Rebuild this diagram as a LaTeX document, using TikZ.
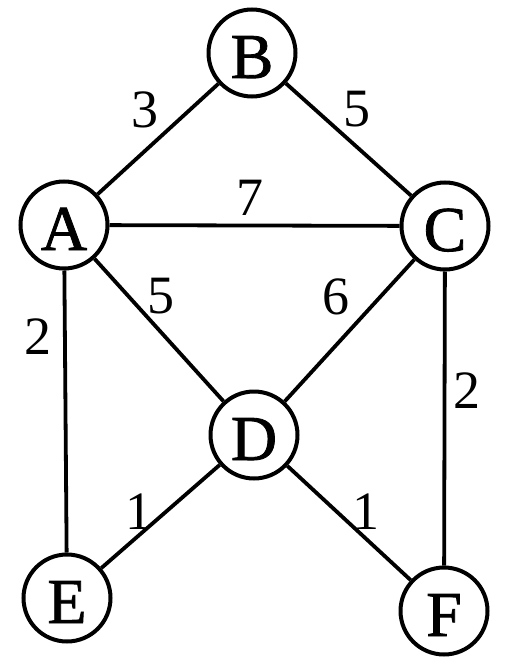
\documentclass[tikz,border=0pt]{standalone}
\usepackage{fontspec}
\setmainfont{Liberation Serif}
\newfontfamily\vtxfont[FakeBold=1.3]{Liberation Serif}
\begin{document}
\begin{tikzpicture}[x=1pt,y=-1pt,
  vtx/.style={circle,draw,line width=4pt,minimum size=87pt,inner sep=0pt,text height=50pt,text depth=0pt,font=\vtxfont\fontsize{64}{64}\selectfont},
  edge/.style={line width=3.8pt},
  wt/.style={font=\fontsize{54}{54}\selectfont,inner sep=0pt}]
\useasboundingbox (0,0) rectangle (505,668);
\node[vtx] (B) at (252,53) {B};
\node[vtx] (A) at (64,225) {A};
\node[vtx] (C) at (445,226) {C};
\node[vtx] (D) at (254,435) {D};
\node[vtx] (E) at (67,598) {E};
\node[vtx] (F) at (444,611) {F};
\draw[edge] (A) -- (B);
\draw[edge] (B) -- (C);
\draw[edge] (A) -- (C);
\draw[edge] (A) -- (D);
\draw[edge] (C) -- (D);
\draw[edge] (A) -- (E);
\draw[edge] (C) -- (F);
\draw[edge] (D) -- (E);
\draw[edge] (D) -- (F);
\node[wt] (w3) at (145,110) {3};
\node[wt] (w5a) at (357,109) {5};
\node[wt] (w7) at (250,198) {7};
\node[wt] (w5b) at (161,296) {5};
\node[wt] (w6) at (336,297) {6};
\node[wt] (w2a) at (38,337) {2};
\node[wt] (w2b) at (467,391) {2};
\node[wt] (w1a) at (139,512) {1};
\node[wt] (w1b) at (366,512) {1};
\end{tikzpicture}
\end{document}
